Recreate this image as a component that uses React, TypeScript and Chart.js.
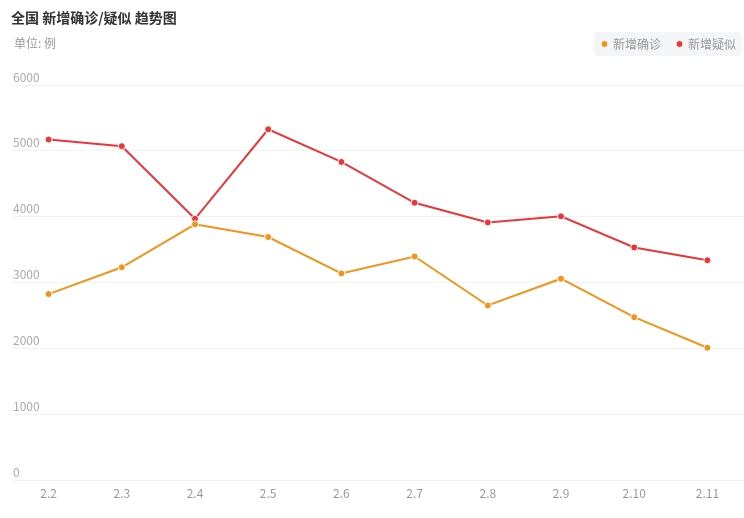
import React, { useEffect, useRef } from "react";
import { Chart, registerables } from "chart.js";

Chart.register(...registerables);

const categories = ["2.2", "2.3", "2.4", "2.5", "2.6", "2.7", "2.8", "2.9", "2.10", "2.11"];
const confirmedLabel = "新增确诊";
const suspectedLabel = "新增疑似";
const confirmedValues = [2829, 3235, 3887, 3694, 3143, 3399, 2656, 3062, 2478, 2015];
const suspectedValues = [5173, 5072, 3971, 5328, 4833, 4214, 3916, 4008, 3536, 3342];
const yTicks = [0, 1000, 2000, 3000, 4000, 5000, 6000];
const titleText = "全国 新增确诊/疑似 趋势图";
const unitText = "单位: 例";

const FONT = '"Noto Sans CJK SC", "Noto Sans", sans-serif';
const ORANGE = "#f0941c";
const RED = "#e8363a";
const SHIFT = 8;

const legendPatch = {
  id: "legendPatch",
  beforeInit(chart: any) {
    const legend = chart.legend;
    if (!legend) return;
    const origFit = legend.fit.bind(legend);
    legend.fit = function () {
      origFit();
      this.height = 63;
    };
    const origDraw = legend.draw.bind(legend);
    legend.draw = function () {
      const ctx = chart.ctx;
      const boxes = this.legendHitBoxes || [];
      ctx.save();
      ctx.translate(SHIFT, 0);
      if (boxes.length) {
        const first = boxes[0];
        const x = first.left - 8;
        const y = first.top + first.height / 2 - 12;
        const w = chart.width - 2 - SHIFT - x;
        const h = 24;
        const r = 5;
        ctx.fillStyle = "#f4f5f7";
        ctx.beginPath();
        ctx.moveTo(x + r, y);
        ctx.lineTo(x + w - r, y);
        ctx.quadraticCurveTo(x + w, y, x + w, y + r);
        ctx.lineTo(x + w, y + h - r);
        ctx.quadraticCurveTo(x + w, y + h, x + w - r, y + h);
        ctx.lineTo(x + r, y + h);
        ctx.quadraticCurveTo(x, y + h, x, y + h - r);
        ctx.lineTo(x, y + r);
        ctx.quadraticCurveTo(x, y, x + r, y);
        ctx.closePath();
        ctx.fill();
      }
      origDraw();
      ctx.restore();
    };
  },
};

export default function App() {
  const canvasRef = useRef<HTMLCanvasElement | null>(null);

  useEffect(() => {
    if (!canvasRef.current) return;
    const chart = new Chart(canvasRef.current, {
      type: "line",
      data: {
        labels: categories,
        datasets: [
          {
            label: confirmedLabel,
            data: confirmedValues,
            borderColor: ORANGE,
            backgroundColor: ORANGE,
            pointBackgroundColor: ORANGE,
            pointBorderColor: "#ffffff",
            pointBorderWidth: 1,
            pointRadius: 3.5,
            borderWidth: 2,
            tension: 0,
          },
          {
            label: suspectedLabel,
            data: suspectedValues,
            borderColor: RED,
            backgroundColor: RED,
            pointBackgroundColor: RED,
            pointBorderColor: "#ffffff",
            pointBorderWidth: 1,
            pointRadius: 3.5,
            borderWidth: 2,
            tension: 0,
          },
        ],
      },
      options: {
        animation: false,
        responsive: false,
        maintainAspectRatio: false,
        layout: { autoPadding: false, padding: { top: 22, left: 10, right: 0, bottom: 11 } },
        plugins: {
          title: { display: false },
          tooltip: { enabled: false },
          legend: {
            display: true,
            position: "top",
            align: "end",
            labels: {
              usePointStyle: true,
              pointStyle: "circle",
              boxWidth: 5,
              boxHeight: 5,
              padding: 16,
              color: "#999999",
              font: { family: FONT, size: 12 },
            },
          },
        },
        scales: {
          x: {
            offset: true,
            grid: { display: false, drawTicks: false },
            border: { display: false },
            ticks: {
              color: "#999999",
              font: { family: FONT, size: 12 },
              padding: 6,
              maxRotation: 0,
            },
          },
          y: {
            min: 0,
            max: 6000,
            afterBuildTicks: (scale: any) => {
              scale.ticks = yTicks.map((v) => ({ value: v }));
            },
            grid: { color: "#f2f2f2", drawTicks: false, lineWidth: 1 },
            border: { display: false },
            ticks: {
              mirror: true,
              padding: 1,
              labelOffset: -8,
              color: "#aaaaaa",
              font: { family: FONT, size: 12 },
              callback: (v: any) => String(v),
            },
          },
        },
      },
      plugins: [legendPatch],
    });
    return () => chart.destroy();
  }, []);

  return (
    <div style={{ position: "absolute", left: 0, top: 0, width: 744, height: 518, background: "#fff" }}>
      <canvas ref={canvasRef} width={744} height={518} style={{ position: "absolute", left: 0, top: 0 }} />
      <div
        style={{
          position: "absolute",
          left: 11,
          top: 7,
          fontFamily: FONT,
          fontSize: 14,
          fontWeight: "bold",
          color: "#333333",
          lineHeight: "20px",
          whiteSpace: "nowrap",
        }}
      >
        {titleText}
      </div>
      <div
        style={{
          position: "absolute",
          left: 14,
          top: 34,
          fontFamily: FONT,
          fontSize: 12,
          color: "#999999",
          lineHeight: "18px",
          whiteSpace: "nowrap",
        }}
      >
        {unitText}
      </div>
    </div>
  );
}
